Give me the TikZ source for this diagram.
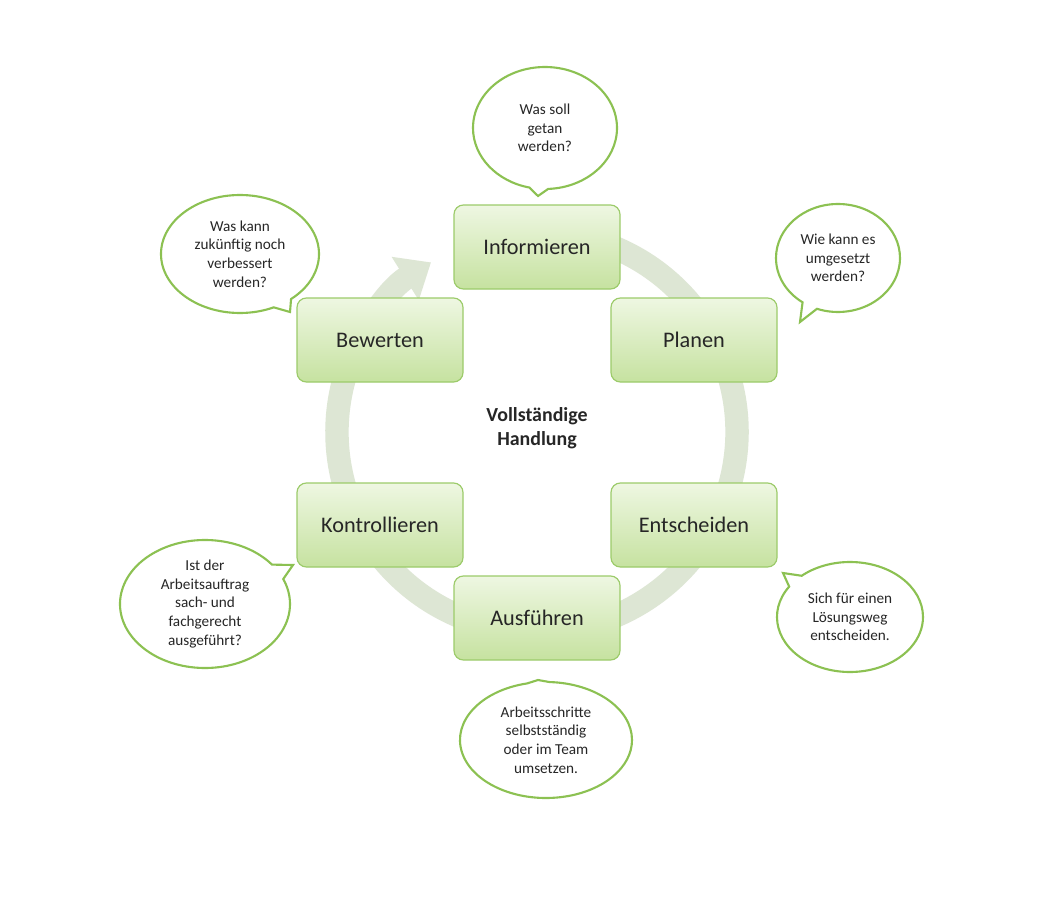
\documentclass[tikz,border=0pt]{standalone}
\usepackage{fontspec}
\setmainfont{Carlito}
\usetikzlibrary{shapes.callouts,arrows.meta}
\definecolor{bord}{HTML}{9CCB6A}
\definecolor{btop}{HTML}{EEF7E2}
\definecolor{bbot}{HTML}{C6E2A0}
\definecolor{ring}{HTML}{DDE6D4}
\definecolor{bub}{HTML}{8CC152}
\begin{document}
\begin{tikzpicture}[x=0.03cm,y=-0.03cm,
 box/.style={draw=bord,line width=1pt,rounded corners=8pt,minimum width=166*0.03cm,minimum height=84*0.03cm,top color=btop,bottom color=bbot,font=\fontsize{19}{22}\selectfont,text=black!85},
 bubble/.style={ellipse callout,draw=bub,line width=1.8pt,fill=white,align=center,font=\fontsize{13}{16}\selectfont,text=black!85,inner sep=1pt}]
\useasboundingbox (0,0) rectangle (1052,924);
\fill[white] (0,0) rectangle (1052,924);
\coordinate (c) at (537,432);
\draw[ring,line width=20pt,-{Triangle[width=42pt,length=26pt]}] ([shift={(-75:200)}]c) arc[start angle=-75,end angle=238,radius=200];
\node[box] (inf) at (537,247) {Informieren};
\node[box] (pla) at (694,340) {Planen};
\node[box] (ent) at (694,525) {Entscheiden};
\node[box] (aus) at (537,618) {Ausführen};
\node[box] (kon) at (380,525) {Kontrollieren};
\node[box] (bew) at (380,340) {Bewerten};
\node[font=\bfseries\fontsize{17}{21}\selectfont,align=center,text=black!85] (vh) at (537,428) {Vollständige\\Handlung};
\coordinate (t1) at (538,196);
\coordinate (t2) at (800,322);
\coordinate (t3) at (290,312);
\coordinate (t4) at (293,565);
\coordinate (t5) at (783,573);
\coordinate (t6) at (538,680);
\node[bubble,minimum width=144*0.03cm,minimum height=122*0.03cm,callout absolute pointer={(t1)}] (b1) at (545,128) {Was soll\\getan\\werden?};
\node[bubble,minimum width=124*0.03cm,minimum height=108*0.03cm,callout absolute pointer={(t2)}] (b2) at (838,258) {Wie kann es\\umgesetzt\\werden?};
\node[bubble,minimum width=158*0.03cm,minimum height=118*0.03cm,callout absolute pointer={(t3)}] (b3) at (240,254) {Was kann\\zukünftig noch\\verbessert\\werden?};
\node[bubble,minimum width=170*0.03cm,minimum height=124*0.03cm,callout absolute pointer={(t4)}] (b4) at (205,604) {Ist der\\Arbeitsauftrag\\sach- und\\fachgerecht\\ausgeführt?};
\node[bubble,minimum width=146*0.03cm,minimum height=110*0.03cm,callout absolute pointer={(t5)}] (b5) at (850,617) {Sich für einen\\Lösungsweg\\entscheiden.};
\node[bubble,minimum width=172*0.03cm,minimum height=116*0.03cm,callout absolute pointer={(t6)}] (b6) at (546,740) {Arbeitsschritte\\selbstständig\\oder im Team\\umsetzen.};
\end{tikzpicture}
\end{document}
